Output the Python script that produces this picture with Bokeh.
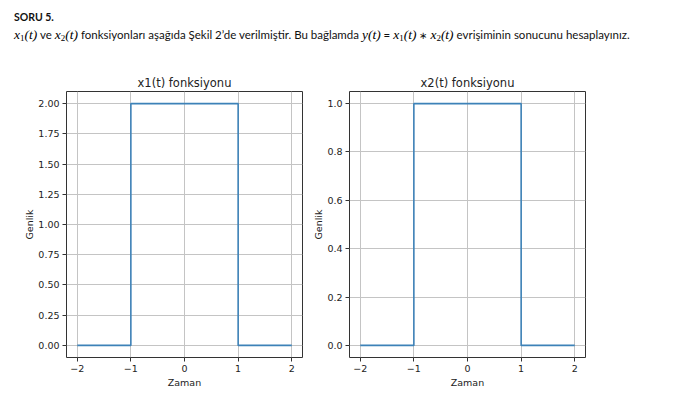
from bokeh.plotting import figure
from bokeh.layouts import column, row
from bokeh.models import Div, FixedTicker
from bokeh.embed import file_html
from bokeh.resources import INLINE

# Data
t = [-2, -1, -1, 1, 1, 2]
x1 = [0, 0, 2, 2, 0, 0]
x2 = [0, 0, 1, 1, 0, 0]
x_ticks = [-2, -1, 0, 1, 2]
x_tick_labels = ["\u22122", "\u22121", "0", "1", "2"]
y1_ticks = [0.0, 0.25, 0.5, 0.75, 1.0, 1.25, 1.5, 1.75, 2.0]
y2_ticks = [0.0, 0.2, 0.4, 0.6, 0.8, 1.0]

FONT = "DejaVu Sans"
LINE_COLOR = "#3d82b8"


def make_plot(title, y, yticks, yfmt, ystart, yend, bl, br, w):
    p = figure(width=w, height=334, output_backend="svg", toolbar_location=None,
               x_range=(-2.2, 2.2), y_range=(ystart, yend),
               min_border_left=bl, min_border_right=br,
               min_border_top=33, min_border_bottom=35,
               frame_width=236, frame_height=266, title=title)
    p.title.text_font = FONT
    p.title.text_font_size = "11.5px"
    p.title.text_font_style = "normal"
    p.title.align = "center"
    p.title.text_color = "#222222"
    p.title.standoff = 4
    p.line(t, y, line_color=LINE_COLOR, line_width=1.6)
    p.outline_line_color = "#333333"
    p.outline_line_alpha = 1.0
    p.outline_line_width = 1
    for ax in (p.xaxis[0], p.yaxis[0]):
        ax.axis_line_color = None
        ax.major_tick_line_color = "#333333"
        ax.major_tick_out = 4
        ax.major_tick_in = 0
        ax.minor_tick_line_color = None
        ax.major_label_text_font = FONT
        ax.major_label_text_font_size = "9.5px"
        ax.major_label_text_color = "#222222"
        ax.axis_label_text_font = FONT
        ax.axis_label_text_font_size = "9.5px"
        ax.axis_label_text_font_style = "normal"
        ax.axis_label_text_color = "#222222"
        ax.major_label_standoff = 3
    p.xaxis[0].axis_label_standoff = 2
    p.yaxis[0].axis_label_standoff = 0
    p.xaxis[0].ticker = FixedTicker(ticks=x_ticks)
    p.xaxis[0].major_label_overrides = {k: v for k, v in zip(x_ticks, x_tick_labels)}
    p.xaxis[0].axis_label = "Zaman"
    p.yaxis[0].ticker = FixedTicker(ticks=yticks)
    p.yaxis[0].major_label_overrides = {k: yfmt.format(k) for k in yticks}
    p.yaxis[0].axis_label = "Genlik"
    p.grid.grid_line_color = "#c4c4c4"
    p.grid.grid_line_width = 1
    p.background_fill_color = "white"
    p.border_fill_color = "white"
    return p


p1 = make_plot("x1(t) fonksiyonu", x1, y1_ticks, "{:.2f}", -0.1, 2.1, 66, 8, 310)
p2 = make_plot("x2(t) fonksiyonu", x2, y2_ticks, "{:.1f}", -0.05, 1.05, 39, 115, 390)

m = "font-family:'Liberation Serif';font-style:italic;font-size:13.5px;color:#000;"
sub = "font-family:'Liberation Serif';font-size:9px;vertical-align:-2px;color:#000;"
def xi(i):
    return f"<span style=\"{m}\">x</span><span style=\"{sub}\">{i}</span><span style=\"{m}\">(t)</span>"

header_html = (
    "<div style=\"font-family:Lato;font-size:11.5px;line-height:17px;color:#111;"
    "padding-left:14px;padding-top:8px;margin:0;white-space:nowrap;\">"
    "<b style=\"font-size:10.5px\">SORU 5.</b><br>"
    f"{xi(1)} ve {xi(2)} fonksiyonları aşağıda Şekil 2’de verilmiştir. Bu bağlamda "
    f"<span style=\"{m}\">y(t)</span> = {xi(1)} <span style=\"font-size:10px\">∗</span> {xi(2)} "
    "evrişiminin sonucunu hesaplayınız."
    "</div>"
)
header = Div(text=header_html, width=700, height=58, margin=(0, 0, 0, 0))

layout = column(header, row(p1, p2, spacing=0), spacing=0)
open("out.html", "w").write(file_html(layout, INLINE))
